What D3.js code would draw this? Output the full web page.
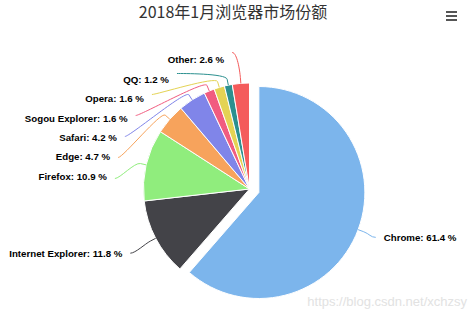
<!DOCTYPE html>
<html>
<head>
<meta charset="utf-8">
<script src="https://cdn.jsdelivr.net/npm/d3@7"></script>
<style>
  html, body { margin: 0; padding: 0; background: #fff; }
  svg { display: block; }
</style>
</head>
<body>
<svg id="chart" width="474" height="317"></svg>
<script>
// ---- data ----
const chartTitle = "2018年1月浏览器市场份额";
const categories = ["Chrome", "Internet Explorer", "Firefox", "Edge", "Safari", "Sogou Explorer", "Opera", "QQ", "Other"];
const shares = [61.4, 11.8, 10.9, 4.7, 4.2, 1.6, 1.6, 1.2, 2.6];
const colors = ["#7cb5ec", "#434348", "#90ed7d", "#f7a35c", "#8085e9", "#f15c80", "#e4d354", "#2b908f", "#f45b5b"];
const slicedCategories = ["Chrome"];
const watermark = "https://blog.csdn.net/xchzsy";

// ---- layout ----
const W = 474, H = 317;
const cx = 249.5, cy = 189, r = 106;
const slicedOffset = 10;
const labelR = r + 32;       // label circle radius
const connectorPad = 5;
const textGap = 8;
const svg = d3.select("#chart");

svg.append("text")
  .attr("x", 233).attr("y", 18)
  .attr("text-anchor", "middle")
  .attr("font-family", "'Noto Sans CJK SC', 'Noto Sans', sans-serif")
  .attr("font-size", 16)
  .attr("fill", "#333333")
  .text(chartTitle);

// hamburger menu
const menu = svg.append("g").attr("stroke", "#555").attr("stroke-width", 2);
[12, 16, 20].forEach(y => menu.append("line").attr("x1", 446).attr("x2", 457).attr("y1", y).attr("y2", y));

const pie = d3.pie().sort(null).value(d => d.v).startAngle(0).endAngle(2 * Math.PI);
const data = categories.map((c, i) => ({ c, v: shares[i], color: colors[i], sliced: slicedCategories.includes(c) }));
const arcs = pie(data);
const arcGen = d3.arc().innerRadius(0).outerRadius(r);

arcs.forEach(a => {
  a.mid = (a.startAngle + a.endAngle) / 2;
  a.off = a.data.sliced ? [Math.sin(a.mid) * slicedOffset, -Math.cos(a.mid) * slicedOffset] : [0, 0];
  a.left = a.mid > Math.PI;
  a.naturalY = cy - labelR * Math.cos(a.mid);
});

// slices
svg.append("g").selectAll("path").data(arcs).join("path")
  .attr("transform", d => `translate(${cx + d.off[0]},${cy + d.off[1]})`)
  .attr("d", arcGen)
  .attr("fill", d => d.data.color)
  .attr("stroke", "#fff").attr("stroke-width", 1).attr("stroke-linejoin", "round");

// distribute labels
function distribute(group) {
  group.sort((a, b) => a.naturalY - b.naturalY);
  let prevU = -Infinity, prevD = -Infinity;
  group.forEach((a, i) => {
    a.yUsed = Math.max(a.naturalY, prevU + 21, 52.5);
    a.yDraw = Math.max(a.naturalY, prevD + 19.4, 60);
    prevU = a.yUsed; prevD = a.yDraw;
  });
}
distribute(arcs.filter(a => a.left));
distribute(arcs.filter(a => !a.left));

const fmt = d3.format(".1f");
const lg = svg.append("g");
arcs.forEach(a => {
  const dy = a.yUsed - cy;
  const dx = Math.sqrt(Math.max(0, labelR * labelR - dy * dy));
  const sgn = a.left ? -1 : 1;
  const X = cx + sgn * dx;
  const textX = X + sgn * connectorPad;
  const startX = textX - sgn * textGap;
  const ctrlX = startX - sgn * 5;
  const bx = cx + a.off[0] + Math.sin(a.mid) * (r + 6), by = cy + a.off[1] - Math.cos(a.mid) * (r + 6);
  const ex = cx + a.off[0] + Math.sin(a.mid) * r, ey = cy + a.off[1] - Math.cos(a.mid) * r;
  const p = d3.path();
  p.moveTo(startX, a.yUsed);
  p.bezierCurveTo(ctrlX, a.yUsed, 2 * bx - ex, 2 * by - ey, bx, by);
  p.lineTo(ex, ey);
  lg.append("path").attr("d", p.toString())
    .attr("fill", "none").attr("stroke", a.data.color).attr("stroke-width", 1);
  lg.append("text")
    .attr("x", textX).attr("y", a.yDraw)
    .attr("dy", "0.35em")
    .attr("text-anchor", a.left ? "end" : "start")
    .attr("font-family", "'Liberation Sans', Arial, sans-serif")
    .attr("font-weight", "bold")
    .attr("font-size", 9.7)
    .attr("fill", "#000")
    .text(`${a.data.c}: ${fmt(a.data.v)} %`);
});

// watermark
svg.append("text")
  .attr("x", 467).attr("y", 306)
  .attr("text-anchor", "end")
  .attr("font-family", "'Liberation Sans', Arial, sans-serif")
  .attr("font-size", 13)
  .attr("fill", "#e2e2e2")
  .text(watermark);
</script>
</body>
</html>
